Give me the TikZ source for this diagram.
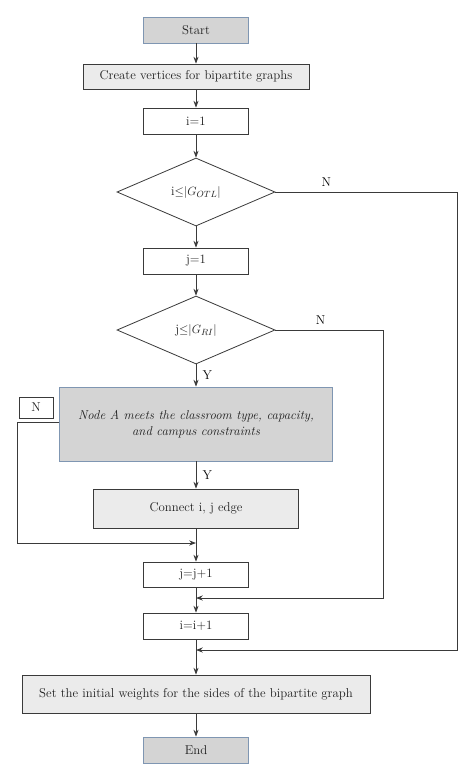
\documentclass[tikz,border=0pt]{standalone}
\usepackage{amsmath,amssymb}
\usepackage{xcolor}
\usetikzlibrary{shapes.geometric,arrows.meta}
\definecolor{termfill}{HTML}{D4D4D4}
\definecolor{termdraw}{HTML}{7F96B2}
\definecolor{procfill}{HTML}{EBEBEB}
\definecolor{linegray}{HTML}{3A3A3A}

\begin{document}
\begin{tikzpicture}[x=1pt, y=-1pt, font=\fontsize{12.8}{15}\selectfont, >={Stealth[length=2.4mm, width=1.8mm]},
  box/.style={draw=linegray, line width=0.8pt, align=center, inner sep=2pt, text=black!88, fill=white},
  term/.style={box, fill=termfill, draw=termdraw, minimum width=105pt, minimum height=26pt},
  proc/.style={box, fill=procfill, minimum height=26pt},
  var/.style={box, minimum width=105pt, minimum height=26pt},
  cond/.style={box, diamond, inner sep=0pt, minimum width=158pt, minimum height=68pt},
  flow/.style={draw=linegray, line width=0.8pt}]
\useasboundingbox (0,0) rectangle (474,780);
\node[term] (start) at (196, 30) {Start};
\node[proc, minimum width=226pt, minimum height=25pt] (vert) at (196, 76.5) {Create vertices for bipartite graphs};
\node[var] (i1) at (196, 121) {i=1};
\node[cond] (ci) at (196, 192) {i$\mathord{\leq}|G_{OTL}|$};
\node[var] (j1) at (196, 261) {j=1};
\node[cond] (cj) at (196, 330) {j$\mathord{\leq}|G_{RI}|$};
\node[box, fill=termfill, draw=termdraw, minimum width=273pt, minimum height=74pt, font=\fontsize{12.8}{16}\selectfont\itshape] (meet) at (196, 424)
  {Node A meets the classroom type, capacity,\\and campus constraints};
\node[box, minimum width=34pt, minimum height=21pt, inner sep=0pt] (nbox) at (36, 407.5) {N};
\node[proc, minimum width=205pt, minimum height=39pt] (conn) at (196, 508.5) {Connect i, j edge};
\node[var, minimum height=25pt] (jinc) at (196, 574.5) {j=j+1};
\node[var] (iinc) at (196, 626) {i=i+1};
\node[proc, minimum width=348pt, minimum height=38pt] (init) at (196, 694) {Set the initial weights for the sides of the bipartite graph};
\node[term] (end) at (196, 750) {End};
% join points on the main line
\coordinate (backj) at (196, 543);
\coordinate (outj) at (196, 598);
\coordinate (outi) at (196, 650);
\coordinate (railj) at (383, 0);
\coordinate (raili) at (457, 0);
\coordinate (railn) at (17, 0);
\draw[flow, ->] (start) -- (vert);
\draw[flow, ->] (vert) -- (i1);
\draw[flow, ->] (i1) -- (ci);
\draw[flow, ->] (ci) -- (j1);
\draw[flow, ->] (j1) -- (cj);
\draw[flow, ->] (cj) -- node[right, xshift=3pt]{Y} (meet);
\draw[flow, ->] (meet) -- node[right, xshift=3pt]{Y} (conn);
\draw[flow, ->] (conn) -- (jinc);
\draw[flow, ->] (jinc) -- (iinc);
\draw[flow, ->] (iinc) -- (init);
\draw[flow, ->] (init) -- (end);
\draw[flow, ->] (ci.east) -- node[pos=0.28, above, yshift=2pt]{N} (ci.east -| raili) |- (outi);
\draw[flow, ->] (cj.east) -- node[pos=0.42, above, yshift=2pt]{N} (cj.east -| railj) |- (outj);
\draw[flow, ->] (meet.west |- 0,422) -- (railn |- 0,422) |- (backj);
\end{tikzpicture}
\end{document}
